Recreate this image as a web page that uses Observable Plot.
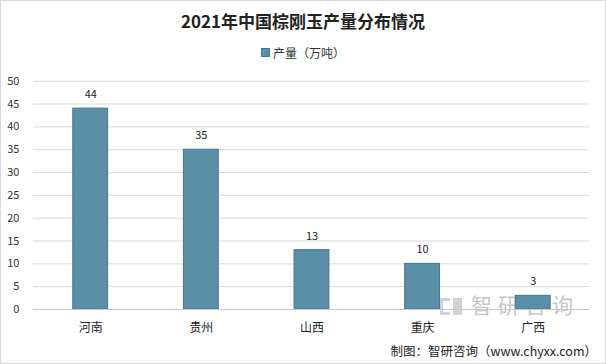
<!DOCTYPE html>
<html><head><meta charset="utf-8">
<script src="https://cdn.jsdelivr.net/npm/d3@7"></script>
<script src="https://cdn.jsdelivr.net/npm/@observablehq/plot@0.6"></script>
<style>
body{margin:0;background:#fff;}
#wrap{position:relative;width:606px;height:364px;box-sizing:border-box;border:1px solid #d9d9d9;overflow:hidden;font-family:"Noto Sans CJK SC","Microsoft YaHei",sans-serif;}
#title{position:absolute;top:7px;left:0;width:100%;text-align:center;font-size:17px;font-weight:bold;color:#222;}
#legend{position:absolute;top:43px;left:0;width:100%;text-align:center;font-size:12px;color:#333;}
#legend span.sw{display:inline-block;width:7px;height:7px;background:#5b8fa8;border:1px solid #41788f;margin-right:3px;vertical-align:1px;}
#caption{position:absolute;right:8px;top:340px;font-size:12.5px;color:#222;}
#wm{position:absolute;left:470px;top:295px;font-size:21px;line-height:17px;color:#c6c6c6;letter-spacing:6px;}
#logo1{position:absolute;left:439px;top:297px;width:10px;height:17px;border:3px solid #c9d3e3;border-right:none;box-sizing:border-box;}
#logo2{position:absolute;left:452px;top:297px;width:9px;height:17px;background:#d2d2d2;}
#chart{position:absolute;left:0;top:0;}
</style></head>
<body>
<div id="wrap">
<div id="logo1"></div><div id="logo2"></div>
<div id="wm">智研咨询</div>
<div id="chart"></div>
<div id="title">2021年中国棕刚玉产量分布情况</div>
<div id="legend"><span class="sw"></span>产量（万吨）</div>
<div id="caption">制图：智研咨询（www.chyxx.com）</div>
</div>
<script>
const provinces = ["河南","贵州","山西","重庆","广西"];
const output = [44,35,13,10,3];
const yTicks = [0,5,10,15,20,25,30,35,40,45,50];
const data = provinces.map((p,i)=>({p, v: output[i]}));
const chart = Plot.plot({
  width: 606, height: 364,
  marginTop: 80, marginBottom: 55, marginLeft: 32, marginRight: 16,
  style: {fontFamily: '"Noto Sans CJK SC", sans-serif', fontSize: "11px", color: "#333", background: "transparent"},
  x: {domain: provinces, paddingInner: 0.686, paddingOuter: 0.343, label: null},
  y: {domain: [0,50], ticks: yTicks, label: null},
  marks: [
    Plot.ruleY(yTicks.filter(d=>d>0), {stroke: "#d9d9d9"}),
    Plot.barY(data, {x: "p", y: "v", fill: "#5b8fa8", stroke: "#41788f", strokeWidth: 1}),
    Plot.ruleY([0], {stroke: "#c8c8c8"}),
    Plot.text(data, {x: "p", y: "v", text: d=>String(d.v), dy: -14, fill: "#222", fontSize: 11}),
    Plot.axisX({tickSize: 0, tickPadding: 14, fontSize: 12, fill: "#222"}),
    Plot.axisY({ticks: yTicks, tickSize: 0, tickPadding: 14, fontSize: 11, fill: "#333"})
  ]
});
document.getElementById("chart").appendChild(chart);
</script>
</body></html>
